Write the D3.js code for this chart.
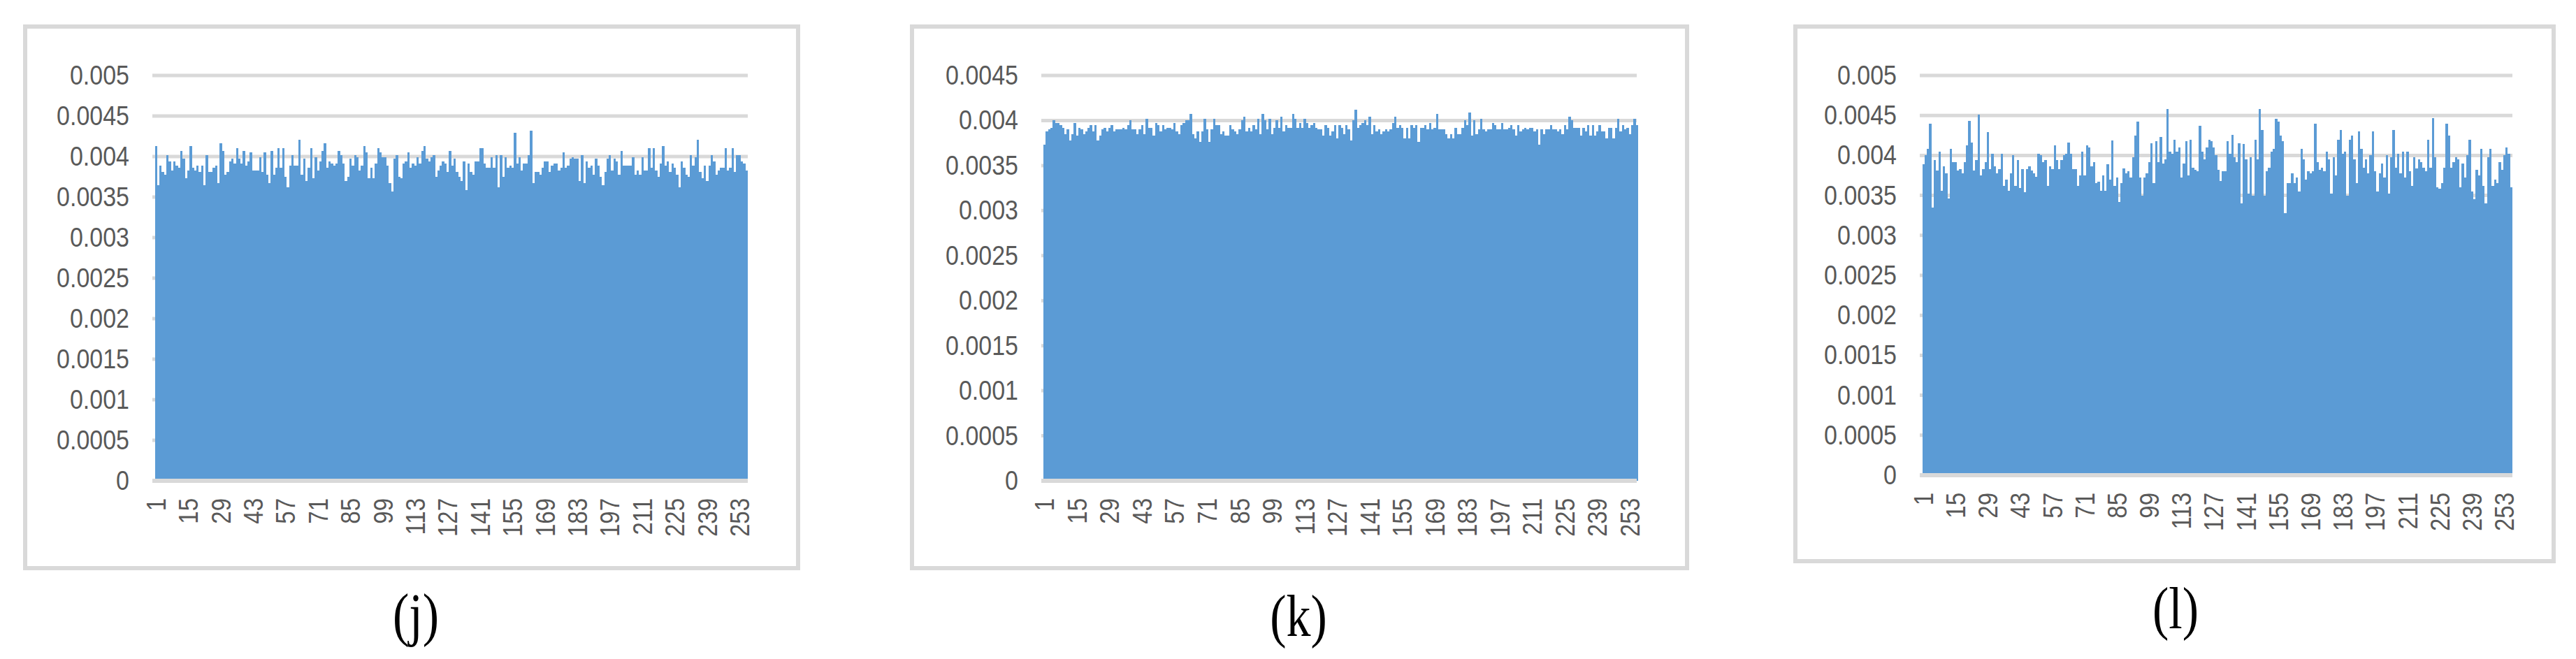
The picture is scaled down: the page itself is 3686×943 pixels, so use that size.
<!DOCTYPE html>
<html><head><meta charset="utf-8">
<script src="https://cdn.jsdelivr.net/npm/d3@7"></script>
<style>html,body{margin:0;padding:0;background:#fff;overflow:hidden}</style>
</head><body><svg id="chart" width="3686" height="943"></svg>
<script>
const categories = d3.range(1, 257);
const xTickLabels = [1,15,29,43,57,71,85,99,113,127,141,155,169,183,197,211,225,239,253];
const yTicksJ = [0,0.0005,0.001,0.0015,0.002,0.0025,0.003,0.0035,0.004,0.0045,0.005];
const yTicksK = [0,0.0005,0.001,0.0015,0.002,0.0025,0.003,0.0035,0.004,0.0045];
const yTicksL = [0,0.0005,0.001,0.0015,0.002,0.0025,0.003,0.0035,0.004,0.0045,0.005];
const captions = ["(j)","(k)","(l)"];

const valuesJ = [
0.00413,0.00365,0.00389,0.00381,0.00378,0.00402,0.00394,0.00383,0.00394,0.00389,
0.00386,0.00407,0.00397,0.00373,0.00383,0.00413,0.00386,0.00383,0.00389,0.00381,
0.00389,0.00365,0.00402,0.00381,0.00381,0.00386,0.00389,0.00367,0.00416,0.00407,
0.00378,0.00381,0.00394,0.00397,0.00391,0.00410,0.00397,0.00391,0.00407,0.00389,
0.00394,0.00405,0.00383,0.00383,0.00383,0.00399,0.00381,0.00405,0.00378,0.00367,
0.00407,0.00378,0.00386,0.00410,0.00386,0.00410,0.00375,0.00362,0.00389,0.00402,
0.00389,0.00389,0.00421,0.00378,0.00397,0.00370,0.00386,0.00410,0.00373,0.00399,
0.00383,0.00394,0.00407,0.00416,0.00386,0.00394,0.00391,0.00389,0.00391,0.00407,
0.00402,0.00391,0.00370,0.00375,0.00397,0.00389,0.00402,0.00399,0.00383,0.00389,
0.00413,0.00405,0.00373,0.00386,0.00373,0.00391,0.00410,0.00405,0.00399,0.00399,
0.00389,0.00367,0.00357,0.00397,0.00402,0.00375,0.00373,0.00391,0.00394,0.00405,
0.00386,0.00391,0.00389,0.00399,0.00391,0.00407,0.00413,0.00397,0.00394,0.00399,
0.00402,0.00375,0.00383,0.00389,0.00394,0.00391,0.00381,0.00407,0.00389,0.00397,
0.00381,0.00375,0.00370,0.00394,0.00359,0.00391,0.00381,0.00378,0.00394,0.00394,
0.00410,0.00410,0.00391,0.00386,0.00386,0.00399,0.00386,0.00402,0.00362,0.00402,
0.00375,0.00399,0.00386,0.00389,0.00386,0.00429,0.00391,0.00399,0.00383,0.00391,
0.00391,0.00402,0.00432,0.00367,0.00381,0.00381,0.00378,0.00386,0.00394,0.00394,
0.00381,0.00389,0.00391,0.00391,0.00383,0.00386,0.00405,0.00386,0.00389,0.00397,
0.00399,0.00397,0.00397,0.00370,0.00402,0.00367,0.00394,0.00386,0.00389,0.00378,
0.00397,0.00389,0.00375,0.00365,0.00381,0.00397,0.00402,0.00383,0.00397,0.00394,
0.00378,0.00407,0.00389,0.00389,0.00389,0.00389,0.00399,0.00378,0.00383,0.00378,
0.00399,0.00383,0.00383,0.00410,0.00386,0.00410,0.00383,0.00375,0.00391,0.00413,
0.00389,0.00394,0.00381,0.00391,0.00386,0.00378,0.00362,0.00394,0.00386,0.00378,
0.00375,0.00402,0.00389,0.00399,0.00421,0.00381,0.00373,0.00389,0.00370,0.00389,
0.00402,0.00394,0.00378,0.00383,0.00386,0.00386,0.00410,0.00383,0.00386,0.00410,
0.00381,0.00402,0.00402,0.00394,0.00391,0.00383
];

const valuesK = [
0.00373,0.00388,0.00390,0.00392,0.00400,0.00397,0.00397,0.00395,0.00392,0.00385,
0.00390,0.00378,0.00385,0.00397,0.00383,0.00392,0.00390,0.00385,0.00388,0.00392,
0.00395,0.00388,0.00395,0.00378,0.00383,0.00390,0.00392,0.00388,0.00392,0.00395,
0.00388,0.00390,0.00390,0.00390,0.00392,0.00390,0.00395,0.00400,0.00390,0.00390,
0.00385,0.00390,0.00395,0.00385,0.00402,0.00392,0.00392,0.00383,0.00397,0.00395,
0.00388,0.00395,0.00390,0.00392,0.00392,0.00390,0.00397,0.00388,0.00385,0.00395,
0.00397,0.00400,0.00400,0.00407,0.00385,0.00380,0.00388,0.00376,0.00388,0.00402,
0.00390,0.00376,0.00390,0.00402,0.00395,0.00395,0.00385,0.00388,0.00383,0.00383,
0.00395,0.00390,0.00388,0.00385,0.00390,0.00400,0.00404,0.00388,0.00392,0.00388,
0.00395,0.00390,0.00402,0.00385,0.00407,0.00400,0.00390,0.00402,0.00385,0.00392,
0.00400,0.00392,0.00404,0.00388,0.00395,0.00392,0.00392,0.00407,0.00402,0.00392,
0.00397,0.00392,0.00402,0.00397,0.00392,0.00395,0.00397,0.00392,0.00390,0.00390,
0.00383,0.00395,0.00392,0.00383,0.00388,0.00395,0.00380,0.00395,0.00392,0.00385,
0.00395,0.00390,0.00378,0.00400,0.00412,0.00392,0.00395,0.00397,0.00400,0.00395,
0.00404,0.00385,0.00395,0.00388,0.00390,0.00385,0.00388,0.00390,0.00388,0.00390,
0.00397,0.00404,0.00392,0.00395,0.00392,0.00380,0.00392,0.00380,0.00395,0.00392,
0.00395,0.00376,0.00392,0.00392,0.00395,0.00390,0.00397,0.00390,0.00392,0.00407,
0.00390,0.00390,0.00390,0.00385,0.00380,0.00385,0.00380,0.00392,0.00385,0.00385,
0.00392,0.00400,0.00395,0.00409,0.00383,0.00400,0.00385,0.00390,0.00402,0.00390,
0.00388,0.00390,0.00390,0.00397,0.00395,0.00390,0.00390,0.00397,0.00390,0.00390,
0.00392,0.00395,0.00390,0.00383,0.00395,0.00388,0.00390,0.00392,0.00390,0.00392,
0.00392,0.00388,0.00390,0.00373,0.00390,0.00385,0.00390,0.00390,0.00395,0.00390,
0.00390,0.00388,0.00390,0.00385,0.00395,0.00390,0.00404,0.00400,0.00392,0.00392,
0.00392,0.00383,0.00392,0.00388,0.00395,0.00383,0.00395,0.00383,0.00388,0.00395,
0.00388,0.00388,0.00380,0.00392,0.00392,0.00380,0.00392,0.00402,0.00388,0.00395,
0.00390,0.00392,0.00385,0.00395,0.00402,0.00395
];

const valuesL = [
0.00389,0.00400,0.00408,0.00440,0.00335,0.00394,0.00381,0.00405,0.00356,0.00386,
0.00378,0.00346,0.00408,0.00392,0.00392,0.00381,0.00383,0.00378,0.00392,0.00413,
0.00443,0.00416,0.00381,0.00394,0.00451,0.00375,0.00383,0.00392,0.00429,0.00383,
0.00402,0.00386,0.00378,0.00383,0.00402,0.00362,0.00370,0.00356,0.00378,0.00400,
0.00362,0.00394,0.00359,0.00383,0.00354,0.00383,0.00386,0.00381,0.00378,0.00373,
0.00402,0.00400,0.00392,0.00394,0.00362,0.00386,0.00383,0.00413,0.00394,0.00383,
0.00394,0.00400,0.00402,0.00416,0.00402,0.00383,0.00383,0.00362,0.00375,0.00405,
0.00375,0.00413,0.00410,0.00386,0.00392,0.00365,0.00367,0.00356,0.00375,0.00356,
0.00389,0.00370,0.00419,0.00362,0.00372,0.00342,0.00365,0.00384,0.00378,0.00380,
0.00372,0.00398,0.00425,0.00442,0.00372,0.00350,0.00372,0.00378,0.00392,0.00415,
0.00365,0.00418,0.00392,0.00423,0.00390,0.00395,0.00458,0.00405,0.00402,0.00420,
0.00405,0.00410,0.00372,0.00390,0.00418,0.00375,0.00420,0.00385,0.00382,0.00380,
0.00437,0.00405,0.00395,0.00410,0.00420,0.00418,0.00410,0.00400,0.00382,0.00368,
0.00380,0.00380,0.00418,0.00402,0.00426,0.00398,0.00392,0.00415,0.00340,0.00414,
0.00395,0.00352,0.00398,0.00350,0.00420,0.00395,0.00458,0.00432,0.00350,0.00380,
0.00385,0.00405,0.00408,0.00446,0.00442,0.00425,0.00418,0.00328,0.00365,0.00365,
0.00378,0.00365,0.00372,0.00355,0.00408,0.00395,0.00370,0.00380,0.00378,0.00380,
0.00440,0.00392,0.00382,0.00385,0.00380,0.00405,0.00395,0.00352,0.00398,0.00375,
0.00420,0.00432,0.00402,0.00405,0.00350,0.00420,0.00425,0.00395,0.00365,0.00430,
0.00408,0.00385,0.00395,0.00378,0.00400,0.00430,0.00380,0.00355,0.00378,0.00390,
0.00372,0.00400,0.00352,0.00398,0.00432,0.00385,0.00402,0.00378,0.00405,0.00372,
0.00405,0.00380,0.00362,0.00398,0.00384,0.00395,0.00392,0.00385,0.00380,0.00420,
0.00385,0.00447,0.00398,0.00360,0.00358,0.00365,0.00385,0.00440,0.00425,0.00385,
0.00392,0.00398,0.00395,0.00360,0.00390,0.00372,0.00400,0.00420,0.00355,0.00345,
0.00382,0.00375,0.00408,0.00362,0.00340,0.00398,0.00408,0.00362,0.00370,0.00365,
0.00392,0.00382,0.00400,0.00410,0.00402,0.00360
];

// layout (pixels)
const panels = [
  {values: valuesJ, ticks: yTicksJ, caption: captions[0],
   frame: [33, 35, 1145, 816], grid: [218, 1070], bars: [221.5, 1070], plotY: [108, 688], cap: [595, 888]},
  {values: valuesK, ticks: yTicksK, caption: captions[1],
   frame: [1302, 35, 2417, 816], grid: [1490, 2342], bars: [1493, 2344], plotY: [108, 688], cap: [1858, 890]},
  {values: valuesL, ticks: yTicksL, caption: captions[2],
   frame: [2566, 35, 3657, 806], grid: [2747, 3595], bars: [2750.5, 3595], plotY: [108, 680], cap: [3113, 879]}
];

const BAR = "#5B9BD5", GRID = "#D9D9D9", TXT = "#595959";
const svg = d3.select("#chart");
svg.append("rect").attr("width", 3686).attr("height", 943).attr("fill", "#fff");

panels.forEach(p => {
  const g = svg.append("g");
  const sw = 6;
  g.append("rect")
    .attr("x", p.frame[0] + sw/2).attr("y", p.frame[1] + sw/2)
    .attr("width", p.frame[2] - p.frame[0] - sw).attr("height", p.frame[3] - p.frame[1] - sw)
    .attr("fill", "#fff").attr("stroke", GRID).attr("stroke-width", sw);

  const yMax = p.ticks[p.ticks.length - 1];
  const y = d3.scaleLinear().domain([0, yMax]).range([p.plotY[1], p.plotY[0]]);
  const x = d3.scaleBand().domain(categories).range(p.bars).padding(0);

  // gridlines
  g.append("g").selectAll("line").data(p.ticks.filter(t => t > 0)).join("line")
    .attr("x1", p.grid[0]).attr("x2", p.grid[1])
    .attr("y1", d => y(d)).attr("y2", d => y(d))
    .attr("stroke", GRID).attr("stroke-width", 5);

  // bars
  g.append("g").selectAll("rect").data(p.values).join("rect")
    .attr("x", (d, i) => x(categories[i]))
    .attr("width", x.bandwidth())
    .attr("y", d => y(d))
    .attr("height", d => y(0) - y(d))
    .attr("fill", BAR)
    .attr("shape-rendering", "crispEdges");

  // baseline
  g.append("line").attr("x1", p.grid[0]).attr("x2", p.grid[1])
    .attr("y1", y(0)).attr("y2", y(0))
    .attr("stroke", GRID).attr("stroke-width", 6);

  // y axis labels
  const ya = g.append("g").attr("transform", `translate(${p.grid[0]},0)`)
    .call(d3.axisLeft(y).tickValues(p.ticks).tickSize(0).tickPadding(33).tickFormat(d => String(d)));
  ya.select(".domain").remove();
  ya.selectAll("text")
    .attr("font-family", "'Liberation Sans', Arial, sans-serif")
    .attr("font-size", 34).attr("fill", TXT)
    .attr("transform", "scale(1,1.15)");

  // x axis labels
  const xa = g.append("g").attr("transform", `translate(0,${y(0)})`)
    .call(d3.axisBottom(x).tickValues(xTickLabels).tickSize(0));
  xa.select(".domain").remove();
  xa.selectAll("text")
    .attr("x", -25).attr("y", 0).attr("dy", "0.36em")
    .attr("text-anchor", "end")
    .attr("transform", "rotate(-90) scale(1,1.15)")
    .attr("font-family", "'Liberation Sans', Arial, sans-serif")
    .attr("font-size", 33).attr("fill", TXT);

  // caption
  g.append("text")
    .attr("transform", `translate(${p.cap[0]},${p.cap[1] + 20}) scale(1,1.2)`)
    .attr("text-anchor", "middle")
    .attr("font-family", "'Liberation Serif', 'Times New Roman', serif")
    .attr("font-size", 70).attr("fill", "#000")
    .text(p.caption);
});
</script>
</body></html>
